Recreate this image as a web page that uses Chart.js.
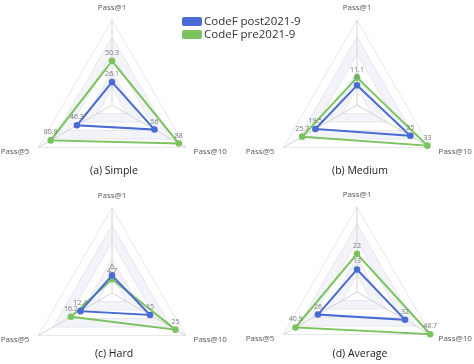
<!DOCTYPE html>
<html>
<head>
<meta charset="utf-8">
<script src="https://cdn.jsdelivr.net/npm/chart.js@4/dist/chart.umd.min.js"></script>
<style>
  body { margin: 0; background: #fff; }
  #wrap { position: relative; width: 474px; height: 364px; overflow: hidden; font-family: 'Open Sans', sans-serif; }
  .box { position: absolute; width: 240px; height: 240px; }
  .title { position: absolute; width: 160px; text-align: center; font-size: 10.5px; color: #222; line-height: 14px; }
  .leg { position: absolute; left: 182px; font-size: 11.5px; color: #333; line-height: 13px; white-space: nowrap; }
  .leg span { display: inline-block; width: 20px; height: 9px; border-radius: 2px; margin-right: 2px; vertical-align: -1px; }
</style>
</head>
<body>
<div id="wrap">
  <div class="box" style="left:-8px;top:-15px"><canvas id="c0" width="240" height="240"></canvas></div>
  <div class="box" style="left:237px;top:-15px"><canvas id="c1" width="240" height="240"></canvas></div>
  <div class="box" style="left:-8px;top:173px"><canvas id="c2" width="240" height="240"></canvas></div>
  <div class="box" style="left:237px;top:172px"><canvas id="c3" width="240" height="240"></canvas></div>

  <div class="title" style="left:34px;top:163px">(a) Simple</div>
  <div class="title" style="left:280px;top:163px">(b) Medium</div>
  <div class="title" style="left:34px;top:346px">(c) Hard</div>
  <div class="title" style="left:280px;top:346px">(d) Average</div>

  <div class="leg" style="top:14px"><span style="background:#4a6bd1"></span>CodeF post2021-9</div>
  <div class="leg" style="top:27px"><span style="background:#7ac35e"></span>CodeF pre2021-9</div>
</div>

<script>
// axes in clockwise order starting at the top
const categories = ['Pass@1', 'Pass@10', 'Pass@5'];
const seriesNames = ['CodeF post2021-9', 'CodeF pre2021-9'];

// CodeF post2021-9 (blue)
const postSimple = [26.1, 56, 46.3];
const postMedium = [8, 25, 19.5];
const postHard = [6, 15, 12.4];
const postAverage = [13, 32, 26];

// CodeF pre2021-9 (green)
const preSimple = [50.3, 88, 80.8];
const preMedium = [11.1, 33, 25.7];
const preHard = [4.7, 25, 16.2];
const preAverage = [22, 48.7, 40.9];

const scaleMax = [97, 34.5, 29, 49];

const blue = '#4a6bd1';
const green = '#7ac35e';

// alternating shaded rings under the grid
const bandPlugin = {
  id: 'bands',
  beforeDraw(chart) {
    const scale = chart.scales.r;
    const ctx = chart.ctx;
    const ticks = scale.ticks;
    ctx.save();
    for (let k = ticks.length - 1; k > 0; k--) {
      const d = scale.getDistanceFromCenterForValue(ticks[k].value);
      ctx.beginPath();
      for (let i = 0; i < categories.length; i++) {
        const p = scale.getPointPosition(i, d);
        if (i === 0) ctx.moveTo(p.x, p.y); else ctx.lineTo(p.x, p.y);
      }
      ctx.closePath();
      ctx.fillStyle = (k % 2 === 0) ? '#f2f4f9' : '#ffffff';
      ctx.fill();
    }
    ctx.restore();
  }
};

// axis names and value labels
const labelPlugin = {
  id: 'labels',
  afterDatasetsDraw(chart) {
    const scale = chart.scales.r;
    const ctx = chart.ctx;
    ctx.save();
    ctx.font = '8px "Open Sans", sans-serif';
    ctx.fillStyle = '#555';
    ctx.textBaseline = 'middle';
    categories.forEach((name, i) => {
      const p = scale.getPointPosition(i, scale.drawingArea);
      if (i === 0) {
        ctx.textAlign = 'center';
        ctx.fillText(name, p.x, p.y - 12.5);
      } else if (p.x > scale.xCenter) {
        ctx.textAlign = 'left';
        ctx.fillText(name, p.x + 8, p.y + 4);
      } else {
        ctx.textAlign = 'right';
        ctx.fillText(name, p.x - 9, p.y + 4);
      }
    });

    ctx.font = '7px "Open Sans", sans-serif';
    ctx.fillStyle = '#777';
    ctx.textAlign = 'center';
    chart.data.datasets.forEach((ds, di) => {
      const meta = chart.getDatasetMeta(di);
      meta.data.forEach((pt, i) => {
        ctx.fillText(String(ds.data[i]), pt.x, pt.y - 8);
      });
    });
    ctx.restore();
  }
};

function makeRadar(id, post, pre, max) {
  const ctx = document.getElementById(id).getContext('2d');
  return new Chart(ctx, {
    type: 'radar',
    data: {
      labels: categories,
      datasets: [{
        label: seriesNames[0],
        data: post,
        borderColor: blue,
        backgroundColor: blue,
        pointBackgroundColor: blue,
        borderWidth: 2,
        pointRadius: 2.3,
        fill: false
      }, {
        label: seriesNames[1],
        data: pre,
        borderColor: green,
        backgroundColor: green,
        pointBackgroundColor: green,
        borderWidth: 2,
        pointRadius: 2.3,
        fill: false
      }]
    },
    options: {
      responsive: false,
      animation: false,
      layout: { padding: 35 },
      elements: { line: { tension: 0 } },
      scales: {
        r: {
          min: 0,
          max: max,
          ticks: { display: false, count: 6 },
          grid: { color: '#e6e8ee', lineWidth: 1 },
          angleLines: { color: '#d4d4d4' },
          pointLabels: { display: false }
        }
      },
      plugins: {
        legend: { display: false },
        tooltip: { enabled: false }
      }
    },
    plugins: [bandPlugin, labelPlugin]
  });
}

makeRadar('c0', postSimple, preSimple, scaleMax[0]);
makeRadar('c1', postMedium, preMedium, scaleMax[1]);
makeRadar('c2', postHard, preHard, scaleMax[2]);
makeRadar('c3', postAverage, preAverage, scaleMax[3]);
</script>
</body>
</html>
